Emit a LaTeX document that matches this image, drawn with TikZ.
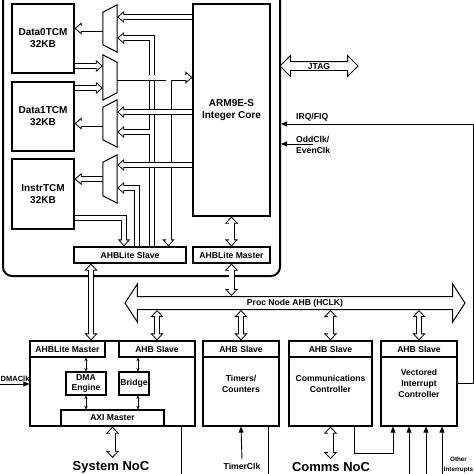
\documentclass[tikz,border=0pt]{standalone}
\usepackage{fontspec}
\setmainfont{Liberation Sans}
\usetikzlibrary{arrows.meta,shapes.arrows,backgrounds}

\begin{document}
\begin{tikzpicture}[x=1pt,y=-1pt,
    font=\bfseries\fontsize{8.6}{11}\selectfont,
    blk/.style={draw,line width=1.1pt,inner sep=0pt,align=center},
    hdr/.style={blk,minimum height=16pt},
    big/.style={font=\bfseries\fontsize{10}{12}\selectfont},
    noc/.style={font=\bfseries\fontsize{13}{15}\selectfont,inner sep=3pt},
    mux/.style={minimum width=14pt,inner sep=0pt},
    bus/.style={line width=6pt,-{Triangle[length=7pt,width=12pt,line width=0.8pt,fill=white]},
      postaction={draw=white,line width=4.4pt,-,shorten >=4pt}},
    busb/.style={line width=6pt,
      {Triangle[length=7pt,width=13pt,line width=0.8pt,fill=white]}-{Triangle[length=7pt,width=13pt,line width=0.8pt,fill=white]},
      postaction={draw=white,line width=4.4pt,-,shorten >=4pt,shorten <=4pt}},
    sig/.style={line width=0.9pt,-{Triangle[length=6pt,width=5pt]}},
    tick/.style={line width=0.8pt,{Stealth[length=3.5pt,width=3.5pt]}-{Stealth[length=3.5pt,width=3.5pt]}}]
  \useasboundingbox (0,0) rectangle (474,474);

  \node[blk,big,minimum width=62pt,minimum height=69pt] (d0) at (43,38.5) {Data0TCM\\32KB};
  \node[blk,big,minimum width=62pt,minimum height=69pt] (d1) at (43,116.5) {Data1TCM\\32KB};
  \node[blk,big,minimum width=62pt,minimum height=70pt] (it) at (43,194) {InstrTCM\\32KB};
  \node[blk,big,minimum width=77pt,minimum height=212pt] (core) at (231.5,110) {ARM9E-S\\Integer Core};
  \node[hdr,minimum width=112pt] (ahbls) at (130,255) {AHBLite Slave};
  \node[hdr,minimum width=77pt] (ahblm) at (231.5,255) {AHBLite Master};

  \node[mux,minimum height=47pt] (m1) at (110,28.5) {};
  \node[mux,minimum height=45pt] (m2) at (110,77.5) {};
  \node[mux,minimum height=47pt] (m3) at (110,123.5) {};
  \node[mux,minimum height=48pt] (m4) at (110,179) {};
  \foreach \m/\a/\b in {m1/east/west,m2/west/east,m3/east/west,m4/east/west}
    \draw[line width=1pt] (\m.north \a) -- (\m.south \a) -- ([yshift=7.5pt]\m.south \b)
      -- ([yshift=-7.5pt]\m.north \b) -- cycle;
  \coordinate (tap3) at (149.8,132);
  \coordinate (tap2) at (168.5,79.7);

  \node[draw,line width=0.9pt,double arrow,double arrow head extend=6pt,double arrow tip angle=90,
    minimum height=78pt,inner ysep=0.9pt,text height=6.2pt,text depth=0pt] (jtag) at (319,66) {JTAG};
  \node[anchor=west,inner sep=0pt] (irql) at (296,117) {IRQ/FIQ};
  \node[anchor=west,inner sep=0pt,align=left] (clkl) at (296,144.5) {OddClk/\\EvenClk};
  \coordinate (clkin) at (313,144);
  \coordinate (irqr) at (473,124);

  \node[draw,line width=1pt,double arrow,double arrow head extend=12.5pt,double arrow tip angle=114,
    minimum height=340pt,inner ysep=1.8pt,text height=6.5pt,text depth=1.9pt] (hclk) at (295,303) {Proc Node AHB (HCLK)};

  \node[blk,minimum width=165pt,minimum height=85pt] (dma) at (112.5,383.5) {};
  \node[hdr,minimum width=75pt] (dmam) at (67.5,349) {AHBLite Master};
  \node[hdr,minimum width=76pt] (dmas) at (157,349) {AHB Slave};
  \node[blk,minimum width=40pt,minimum height=23pt,font=\bfseries\fontsize{8.6}{10}\selectfont] (eng) at (86,383.5) {DMA\\Engine};
  \node[blk,minimum width=30pt,minimum height=23pt] (brg) at (134,383.5) {Bridge};
  \node[hdr,minimum width=103pt] (axi) at (112.5,418) {AXI Master};
  \node[anchor=base west,inner sep=0pt,font=\bfseries\fontsize{7.5}{9}\selectfont] (dclkl) at (0.5,381) {DMAClk};
  \coordinate (dclk) at (0,384);

  \node[blk,minimum width=76pt,minimum height=85pt] (tmr) at (241,383.5) {Timers/\\Counters};
  \node[hdr,minimum width=76pt] (tmrs) at (241,349) {AHB Slave};
  \node[blk,minimum width=83pt,minimum height=85pt] (com) at (330.5,383.5) {Communications\\Controller};
  \node[hdr,minimum width=83pt] (coms) at (330.5,349) {AHB Slave};
  \node[blk,minimum width=76pt,minimum height=85pt] (vic) at (419,383.5) {Vectored\\Interrupt\\Controller};
  \node[hdr,minimum width=76pt] (vics) at (419,349) {AHB Slave};

  \node[noc] (snoc) at (111,467) {System NoC};
  \node[noc] (cnoc) at (331,467) {Comms NoC};
  \node (tclk) at (242,466) {TimerClk};
  \node[align=center,inner sep=0pt,font=\bfseries\fontsize{6.3}{10}\selectfont] (oil) at (458.5,464.5) {Other\\Interrupts};
  \coordinate (ci) at (393,453);
  \coordinate (irqd) at (181,474);
  \coordinate (irqt) at (268,474);

  \begin{pgfonlayer}{background}
    \node[draw,line width=2pt,rounded corners=9pt,minimum width=277pt,minimum height=288pt] (proc) at (141.5,132) {};
    \draw[bus] (core.west |- 0,17) -- (m1.east |- 0,17);
    \draw[bus] (ahbls.north -| 152,0) -- (152,38) -- (m1.east |- 0,38);
    \draw[bus] (tap3) -- (m3.east |- tap3);
    \draw[bus] (m2.east) -- (core.west |- m2.east);
    \draw[bus] (tap2) -- (ahbls.north -| tap2);
    \draw[bus] (core.west |- 0,112) -- (m3.east |- 0,112);
    \draw[bus] (core.west |- 0,165) -- (m4.east |- 0,165);
    \draw[bus] (ahbls.north -| 137,0) |- (m4.east |- 0,188);
    \draw[bus] (m1.west) -- (d0.east |- m1.west);
    \draw[bus] (d0.east |- 0,66) -- (m2.west |- 0,66);
    \draw[bus] (d1.east |- 0,88) -- (m2.west |- 0,88);
    \draw[bus] (m3.west) -- (d1.east |- m3.west);
    \draw[bus] (m4.west) -- (it.east |- m4.west);
    \draw[bus] (it.east |- 0,218) -| (ahbls.north -| 124,0);
    \draw[busb] (core.south) -- (ahblm.north);
    \draw[busb] (ahblm.south) -- (ahblm.south |- hclk.north);
    \draw[busb] (ahbls.south -| 91,0) -- (dmam.north -| 91,0);
    \foreach \s in {dmas,tmrs,coms,vics}
      \draw[busb] (hclk.south -| \s.north) -- (\s.north);
    \draw[busb] (axi.south) -- (axi.south |- snoc.north);
    \draw[busb] (com.south) -- (com.south |- cnoc.north);
  \end{pgfonlayer}

  \draw[tick] (dmam.south -| eng) -- (eng.north);
  \draw[tick] (eng.south) -- (axi.north -| eng);
  \draw[tick] (dmas.south -| 138,0) -- (brg.north -| 138,0);
  \draw[tick] (brg.south -| 138,0) -- (axi.north -| 138,0);

  \draw[sig] (vic.east) -| (irqr) -- (proc.east |- irqr);
  \draw[sig] (clkin) -- (proc.east |- clkin);
  \draw[sig] (dclk) -- (dma.west |- dclk);
  \draw[sig] (tclk.north) -- (tmr.south);
  \draw[sig] (com.south -| 354,0) |- (ci) -- (vic.south -| ci);
  \foreach \x in {409,426,442}
    \draw[sig] (\x,474) -- (vic.south -| \x,0);
  \draw[line width=0.9pt] (dma.south -| irqd) -- (irqd);
  \draw[line width=0.9pt] (tmr.south -| irqt) -- (irqt);
\end{tikzpicture}
\end{document}
